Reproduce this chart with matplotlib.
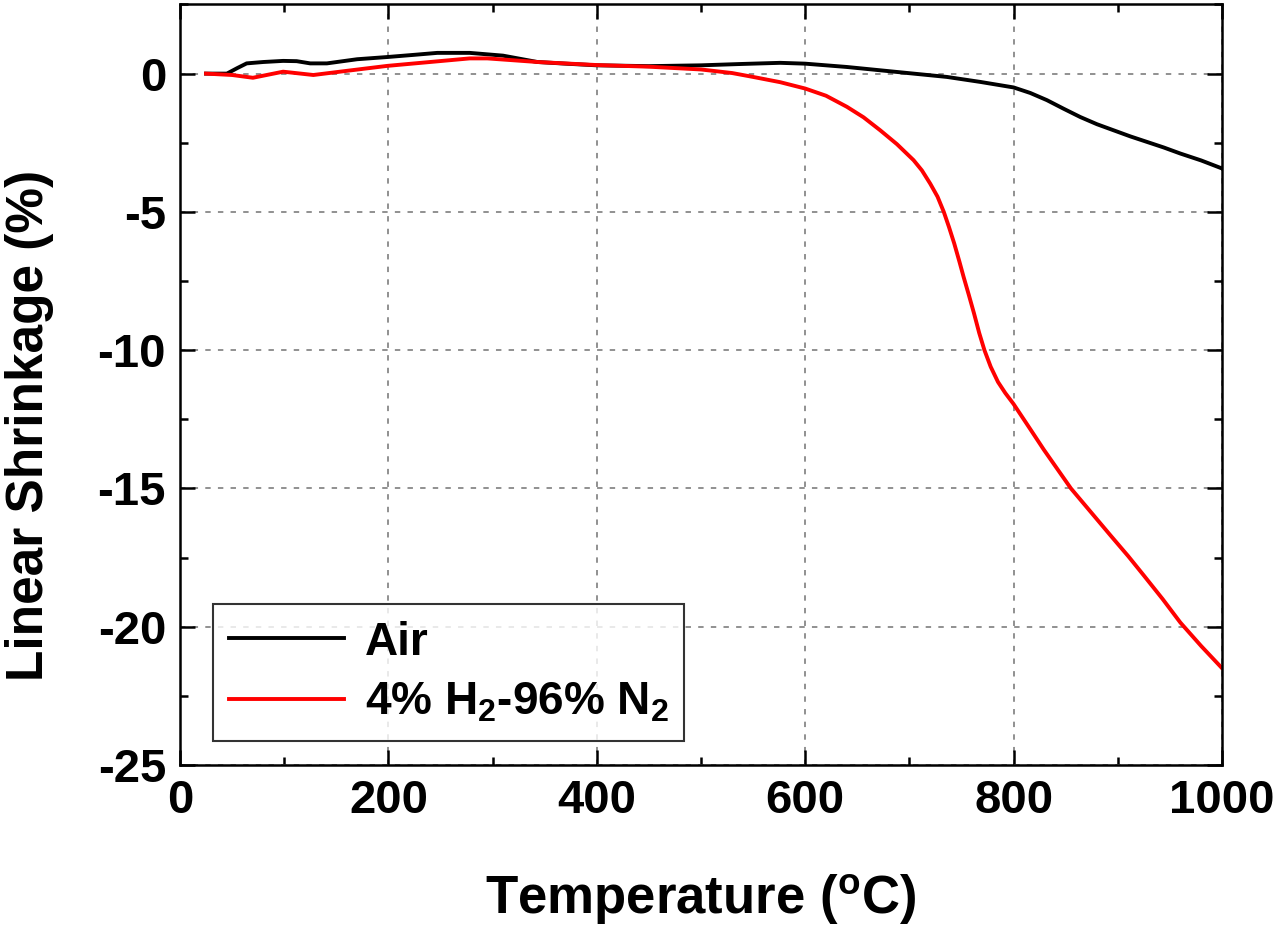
import numpy as np
import matplotlib
matplotlib.use("Agg")
import matplotlib.pyplot as plt
from matplotlib.ticker import MultipleLocator

plt.rcParams['font.family'] = ['Liberation Sans', 'DejaVu Sans']
plt.rcParams['font.weight'] = 'bold'
plt.rcParams['axes.labelweight'] = 'bold'
plt.rcParams['axes.unicode_minus'] = False
plt.rcParams['mathtext.fontset'] = 'custom'
plt.rcParams['mathtext.rm'] = 'Liberation Sans:bold'
plt.rcParams['mathtext.bf'] = 'Liberation Sans:bold'
plt.rcParams['mathtext.it'] = 'Liberation Sans:bold'
plt.rcParams['mathtext.default'] = 'bf'

# ============================================
# DATEN
# ============================================
t_air = [25, 45, 55, 64, 80, 99, 112, 125, 141, 170, 199, 225, 247, 278, 310, 343,
         370, 400, 450, 500, 540, 576, 600, 640, 688, 736, 768, 800, 816, 832, 848,
         864, 880, 896, 912, 928, 944, 960, 980, 1000]
s_air = [0.0, 0.0, 0.2, 0.37, 0.42, 0.46, 0.45, 0.37, 0.37, 0.52, 0.6, 0.68, 0.75,
         0.75, 0.65, 0.42, 0.36, 0.3, 0.27, 0.3, 0.35, 0.39, 0.36, 0.24, 0.06, -0.12,
         -0.3, -0.5, -0.7, -0.96, -1.27, -1.57, -1.83, -2.05, -2.27, -2.47, -2.67,
         -2.89, -3.14, -3.43]

t_h2 = [25, 50, 70, 99, 128, 160, 199, 240, 278, 295, 343, 400, 450, 500, 530, 550,
        576, 600, 620, 640, 656, 672, 688, 704, 712, 720, 727, 733, 738, 743, 748,
        752, 757, 762, 767, 772, 778, 785, 792, 800, 815, 829, 842, 855, 874, 893,
        910, 925, 943, 960, 980, 1000]
s_h2 = [0.0, -0.05, -0.15, 0.07, -0.05, 0.1, 0.28, 0.42, 0.55, 0.55, 0.42, 0.31,
        0.25, 0.15, 0.02, -0.12, -0.31, -0.54, -0.8, -1.2, -1.58, -2.05, -2.55,
        -3.13, -3.5, -3.98, -4.45, -5.0, -5.55, -6.14, -6.8, -7.35, -8.0, -8.67,
        -9.38, -10.0, -10.6, -11.15, -11.55, -11.95, -12.8, -13.6, -14.3, -15.0,
        -15.85, -16.7, -17.45, -18.15, -19.0, -19.85, -20.7, -21.5]

labels = ["Air", "4% H$_2$-96% N$_2$"]

# ============================================
# PLOT
# ============================================
fig = plt.figure(figsize=(12.8, 9.34), dpi=100)
ax = fig.add_axes([0.1406, 0.181, 0.8141, 0.8142])

ax.plot(t_air, s_air, color="black", lw=2.8, label=labels[0])
ax.plot(t_h2, s_h2, color="#ff0000", lw=2.8, label=labels[1])

ax.set_xlim(0, 1000)
ax.set_ylim(-25, 2.5)
ax.xaxis.set_major_locator(MultipleLocator(200))
ax.xaxis.set_minor_locator(MultipleLocator(100))
ax.yaxis.set_major_locator(MultipleLocator(5))
ax.yaxis.set_minor_locator(MultipleLocator(2.5))
ax.tick_params(which="both", direction="in", top=True, right=True, width=1.8)
ax.tick_params(which="major", length=11, labelsize=34, pad=10)
ax.tick_params(which="minor", length=6)
for s in ax.spines.values():
    s.set_linewidth(1.8)

ax.grid(which="major", color="#888888", linestyle=(0, (3, 4)), linewidth=1.3)

ax.set_xlabel("Temperature ($^\\mathregular{o}$C)", fontsize=38)
ax.set_ylabel("Linear Shrinkage (%)", fontsize=37)
ax.xaxis.set_label_coords(0.5, -0.141)
ax.yaxis.set_label_coords(-0.121, 0.447)

leg = ax.legend(loc="lower left", bbox_to_anchor=(0.032, 0.032), fontsize=33,
                frameon=True, fancybox=False, edgecolor="black", handlelength=2.5,
                borderpad=0.35, labelspacing=0.35, handletextpad=0.45,
                borderaxespad=0)
leg.get_frame().set_linewidth(1.5)

plt.savefig('out.png', dpi=100)
